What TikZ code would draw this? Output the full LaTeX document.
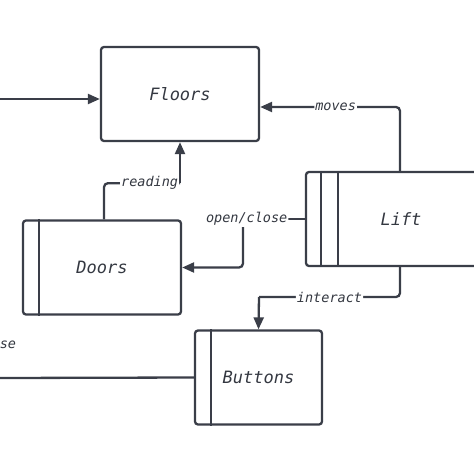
\documentclass[tikz,border=0pt]{standalone}
\usepackage{fontspec}
\setmonofont{DejaVu Sans Mono}
\usetikzlibrary{positioning,arrows.meta}
\definecolor{linegray}{HTML}{3A3E48}

\begin{document}
\begin{tikzpicture}[x=1pt,y=-1pt,
	line width=2.3pt,
	on grid,
	every node/.style={font=\ttfamily\itshape},
	box/.style={draw=linegray,rounded corners=3pt,minimum width=158pt,minimum height=94pt,
		font=\fontsize{17}{17}\selectfont\ttfamily\itshape,text=linegray!90!black},
	flow/.style={linegray,rounded corners=4pt,-{Triangle[length=12pt,width=10pt]}},
	link/.style={linegray,rounded corners=4pt},
	tag/.style={fill=white,inner sep=1pt,text=linegray!90!black,
		font=\fontsize{13.5}{13.5}\selectfont\ttfamily\itshape}]

\useasboundingbox (0,0) rectangle (474,474);
\clip (0,0) rectangle (474,474);

% Boxes
\node[box] (floors) at (180,94) {Floors};

\node[box,
	below left=173.5pt and 78pt of floors] (doors) {Doors};

\node[box,
	minimum width=190pt,
	below right=125pt and 221pt of floors] (lift) {Lift};

\node[box,
	minimum width=127pt,
	below right=283.5pt and 78.5pt of floors] (buttons) {Buttons};

% side strips
\draw[linegray] ([xshift=17pt]doors.north west) -- ([xshift=17pt]doors.south west);
\draw[linegray] ([xshift=17pt]buttons.north west) -- ([xshift=17pt]buttons.south west);
\draw[linegray] ([xshift=16pt]lift.north west) -- ([xshift=16pt]lift.south west)
	([xshift=33pt]lift.north west) -- ([xshift=33pt]lift.south west);

% free ends
\coordinate (inleft) at (0,99);
\coordinate (outleft) at (0,378);

% connections
\draw[flow] (inleft) -- (floors.west |- inleft);

\draw[flow] ([xshift=-1pt]lift.north) |- ([yshift=-13pt]floors.east)
	node[tag,pos=0.73] {moves};

\draw[link] ([xshift=2pt]doors.north) |- ([yshift=-41pt]floors.south)
	node[tag,pos=0.8] {reading};
\draw[flow] ([yshift=-41pt]floors.south) -- (floors.south);

\draw[link] (lift.west) -- (243,219) node[tag,pos=0.94] (oc) {open/close};
\draw[flow] (243,227) |- (doors.east);

\draw[link] ([xshift=-1pt]lift.south) |- (259,297)
	node[tag,pos=0.75] {interact};
\draw[flow] (259,297) -- (buttons.north);

\draw[link] (outleft) -- (buttons.west);
\node[tag] (close) at (8,345) {se};

\end{tikzpicture}
\end{document}
